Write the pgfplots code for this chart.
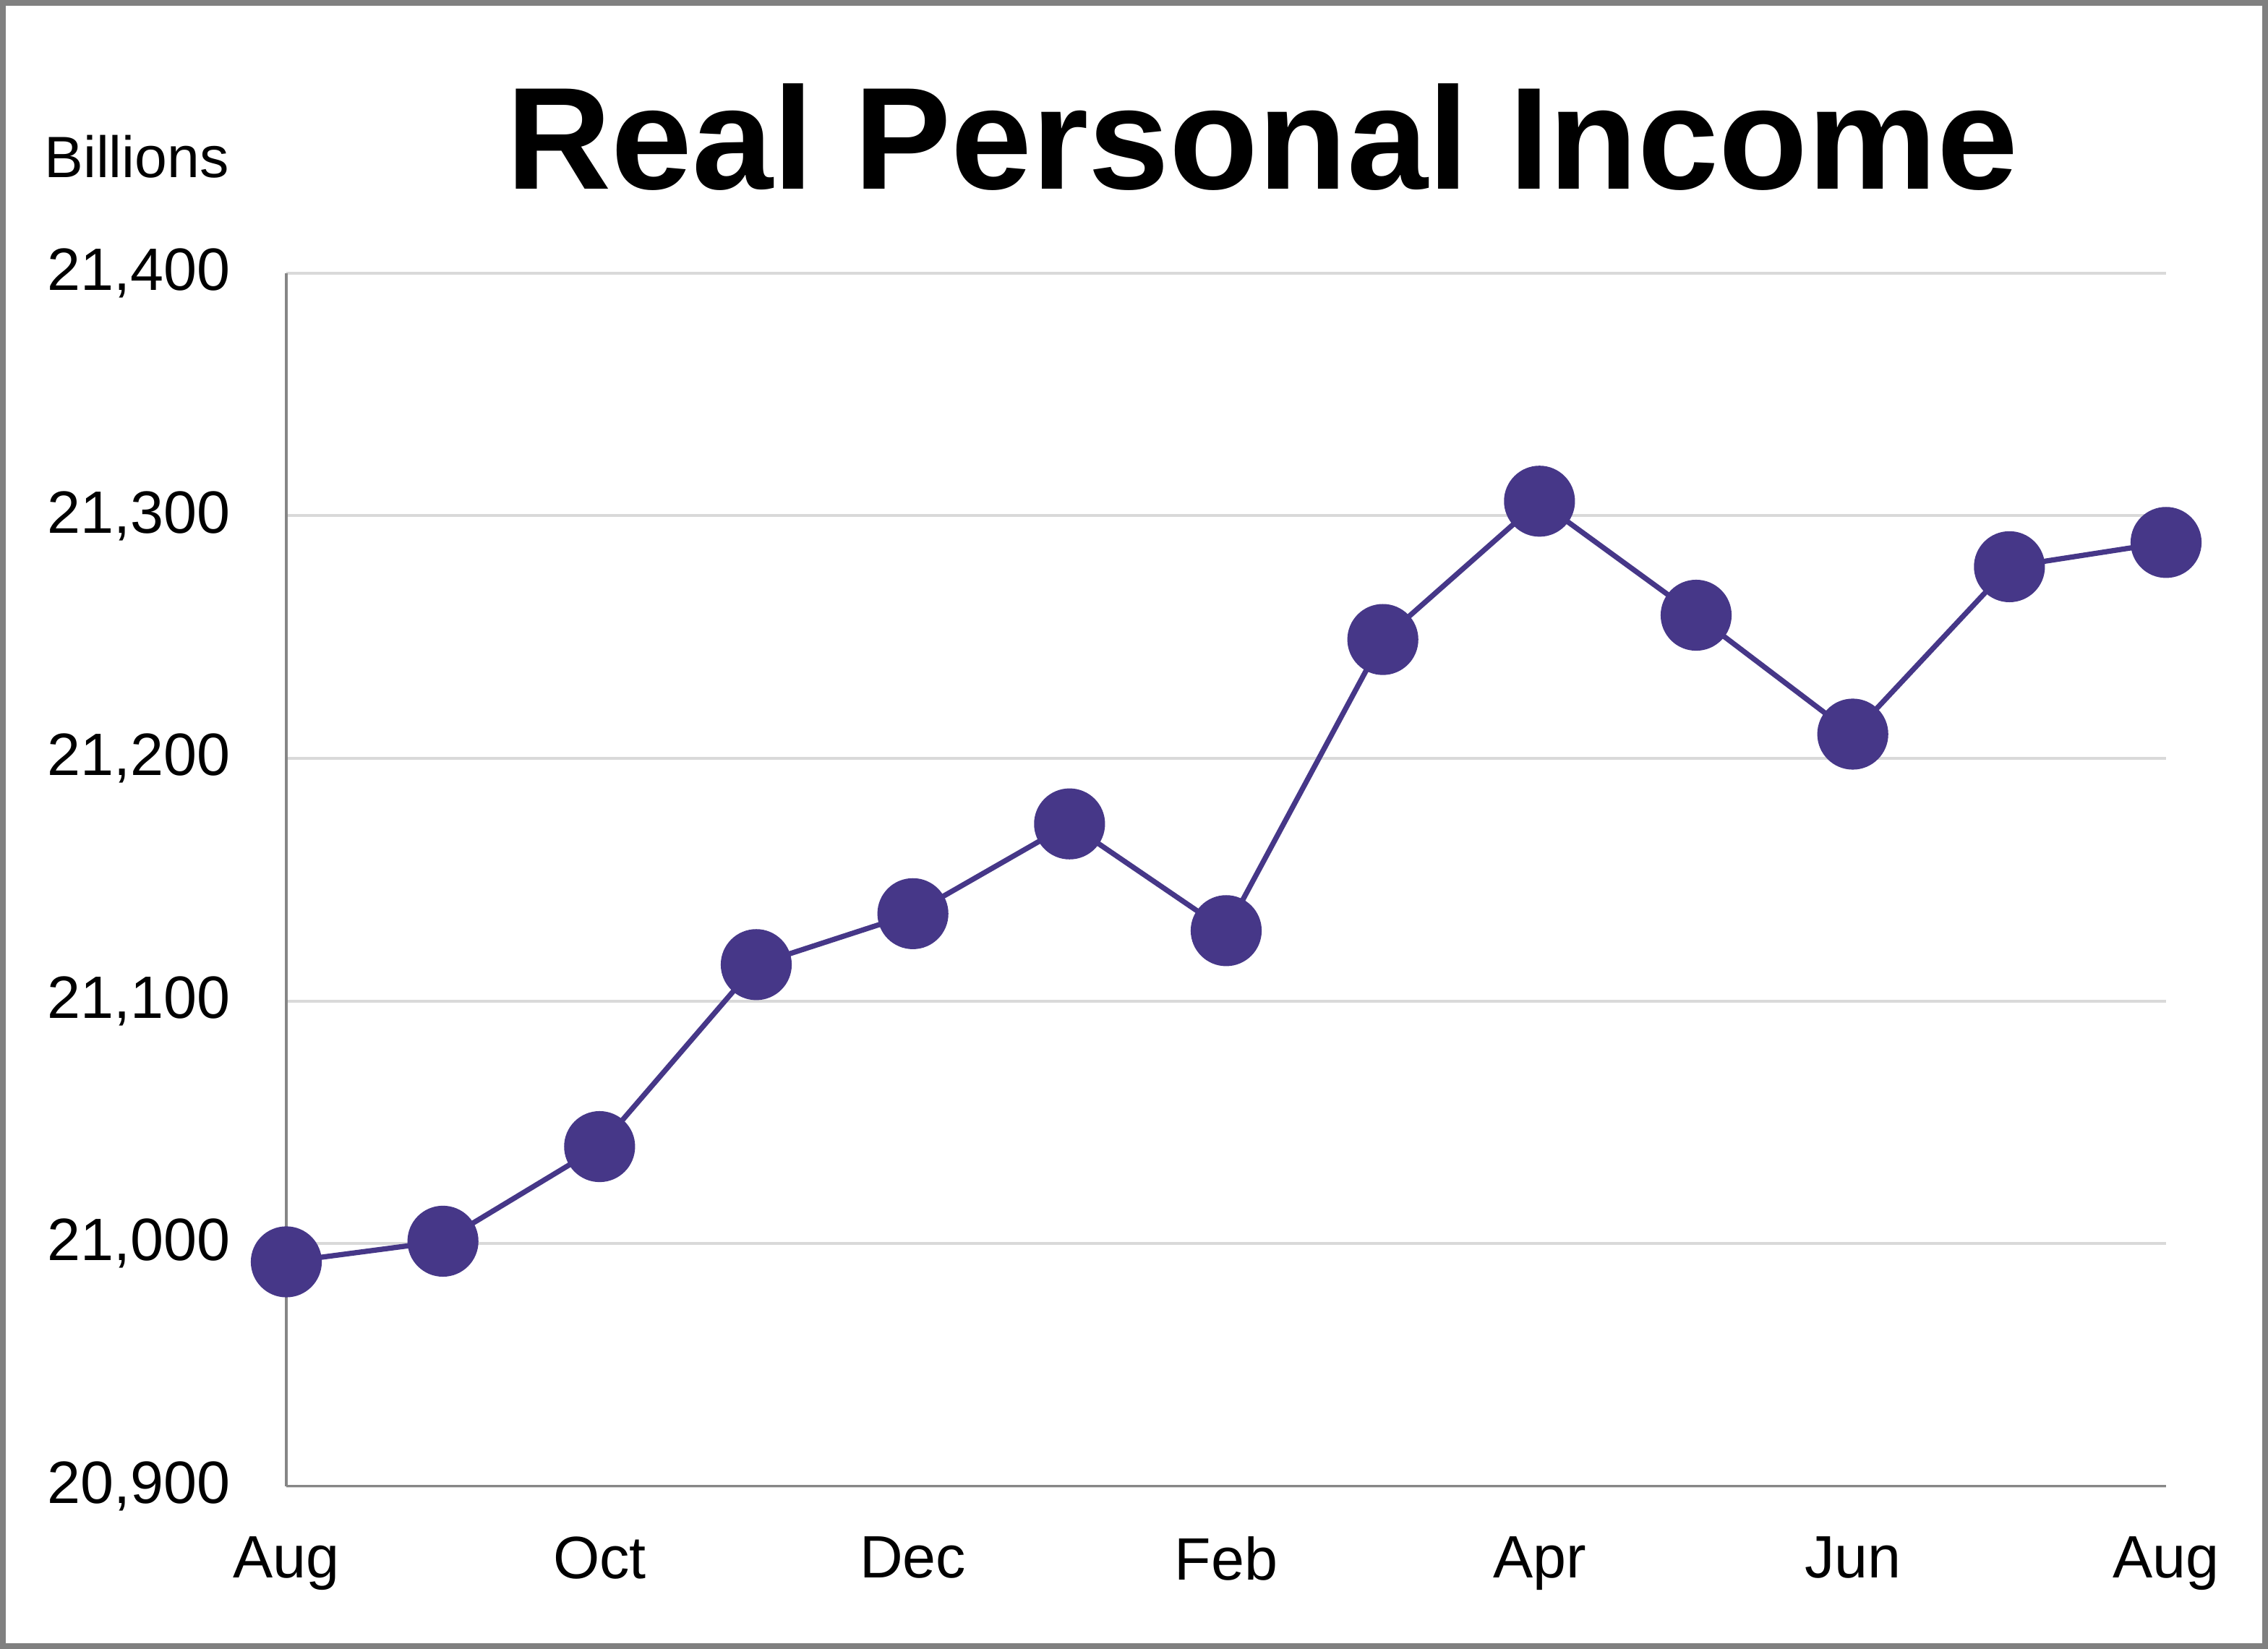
\documentclass[border=0pt]{standalone}
\usepackage{fontspec}
\setmainfont{Liberation Sans}
\usepackage{pgfplots}
\pgfplotsset{compat=1.18}
\definecolor{incomeline}{HTML}{463788}
\definecolor{gridgray}{HTML}{D9D9D9}
\definecolor{axisgray}{HTML}{868686}
\definecolor{framegray}{HTML}{808080}
\begin{document}
\begin{tikzpicture}
% picture is 3137 x 2281 px at 196.06 px/cm, axis origin at (396,2056)
\useasboundingbox (-2.0198,-1.1476) rectangle (13.980,10.486);
\begin{axis}[
  at={(0,0)}, anchor=south west,
  scale only axis,
  width=13.261cm, height=8.559cm,
  xmin=0, xmax=12,
  ymin=20900, ymax=21400,
  xtick={0,2,...,12},
  xticklabels={Aug,Oct,Dec,Feb,Apr,Jun,Aug},
  ytick={20900,21000,...,21400},
  scaled y ticks=false,
  axis lines*=left,
  axis line style={axisgray, line width=0.45pt},
  major tick length=0pt,
  ymajorgrids=true,
  grid style={gridgray, line width=0.6pt},
  clip=false,
  /pgf/number format/.cd, fixed, 1000 sep={,}, assume math mode=true, /pgfplots/.cd,
  tick label style={font=\fontsize{12}{14}\selectfont, inner sep=0pt},
  yticklabel style={xshift=-0.388cm},
  xticklabel style={yshift=-0.347cm},
]
\addplot[incomeline, line width=1.05pt, mark=*, mark size=6.6pt,
  mark options={fill=incomeline, draw=none}] coordinates {
  (0,20992.5) (1,21001) (2,21040) (3,21115) (4,21136) (5,21173) (6,21129)
  (7,21249) (8,21306) (9,21259) (10,21210) (11,21279) (12,21289)
};
\end{axis}
\node[anchor=base, inner sep=0pt, font=\fontsize{29.2}{35}\bfseries] at (6.886,9.150) {Real Personal Income};
\node[anchor=base west, inner sep=0pt, font=\fontsize{11.7}{14}\selectfont] at (-1.714,9.232) {Billions};
\draw[framegray, line width=0.041cm] (-1.9993,-1.1271) rectangle (13.9595,10.4655);
\end{tikzpicture}
\end{document}
